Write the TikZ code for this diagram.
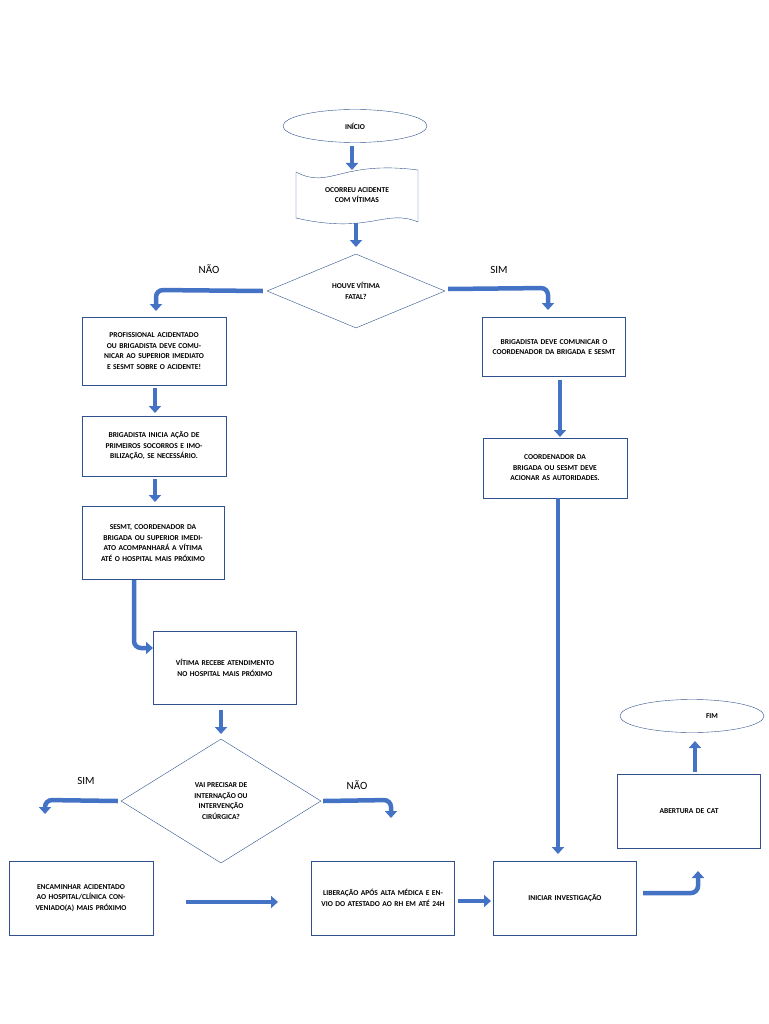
\documentclass[tikz,border=0pt]{standalone}
\usepackage{fontspec}
\setmainfont{Carlito}
\usetikzlibrary{shapes.geometric,arrows.meta}
\definecolor{wblue}{RGB}{68,114,196}
\definecolor{wedge}{RGB}{47,82,143}
\begin{document}
\begin{tikzpicture}[x=1pt,y=-1pt,
    txt/.style={font={\fontsize{7.5}{10.5}\selectfont\bfseries},align=center},
    box/.style={txt,draw=wedge,thin,minimum width=#1,text width=#1-16pt},
    decision/.style={txt,draw=wedge,thin,diamond,aspect=2.4,inner sep=1pt},
    term/.style={txt,draw=wedge,thin,ellipse,minimum width=144pt,minimum height=33pt},
    blk/.style={line width=4.5pt,draw=wblue,rounded corners=7pt,
        -{Triangle[width=12pt,length=7pt]}},
    lbl/.style={font={\fontsize{11}{13}\selectfont}}]
\useasboundingbox (0,0) rectangle (768,1024);

\node[term] (inicio) at (355,126) {INÍCIO};
% fita
\draw[wedge,thin] (296,172) .. controls (330,190) and (340,160) .. (418,170)
    -- (418,222) .. controls (385,208) and (370,235) .. (296,218) -- cycle;
\node[txt] (ocorreu) at (357,195) {OCORREU ACIDENTE\\COM VÍTIMAS};
\node[decision,minimum width=178pt,minimum height=74pt] (fatal) at (356,291) {HOUVE VÍTIMA\\FATAL?};

\node[box=144pt,minimum height=68pt] (comunicar) at (154,351) {PROFISSIONAL ACIDENTADO OU BRIGADISTA DEVE COMUNICAR AO SUPERIOR IMEDIATO E SESMT SOBRE O ACIDENTE!};
\node[box=144pt,minimum height=60pt] (socorro) at (154,446) {BRIGADISTA INICIA AÇÃO DE PRIMEIROS SOCORROS E IMOBILIZAÇÃO, SE NECESSÁRIO.};
\node[box=142pt,minimum height=73pt] (acompanha) at (153,543) {SESMT, COORDENADOR DA BRIGADA OU SUPERIOR IMEDIATO ACOMPANHARÁ A VÍTIMA ATÉ O HOSPITAL MAIS PRÓXIMO};
\node[box=143pt,minimum height=73pt] (atende) at (225,668) {VÍTIMA RECEBE ATENDIMENTO NO HOSPITAL MAIS PRÓXIMO};
\node[decision,minimum width=200pt,minimum height=124pt,aspect=1.6] (intern) at (221,801) {VAI PRECISAR DE\\INTERNAÇÃO OU\\INTERVENÇÃO\\CIRÚRGICA?};

\node[box=144pt,minimum height=74pt] (encaminhar) at (81,898) {ENCAMINHAR ACIDENTADO AO HOSPITAL/CLÍNICA CONVENIADO(A) MAIS PRÓXIMO};
\node[box=143pt,minimum height=74pt] (liberacao) at (383,898) {LIBERAÇÃO APÓS ALTA MÉDICA E ENVIO DO ATESTADO AO RH EM ATÉ 24H};
\node[box=143pt,minimum height=74pt] (investigar) at (565,898) {INICIAR INVESTIGAÇÃO};

\node[box=143pt,minimum height=59pt] (brigadista) at (554,347) {BRIGADISTA DEVE COMUNICAR O COORDENADOR DA BRIGADA E SESMT};
\node[box=144pt,minimum height=60pt] (autoridades) at (555,468) {COORDENADOR DA BRIGADA OU SESMT DEVE ACIONAR AS AUTORIDADES.};
\node[box=143pt,minimum height=74pt] (cat) at (689,811) {ABERTURA DE CAT};
\node[term] (fim) at (692,716) {\hspace*{40pt}FIM};

% setas
\draw[blk] (352,146) -- (352,170);
\draw[blk] (356,223) -- (356,247);
\draw[blk] (fatal.west) ++(-4,0) -- (156,290) -- (156,311);
\draw[blk] (fatal.east) ++(3,-2) -- (548,288) -- (548,310);
\draw[blk] (comunicar.south) ++(1,3) -- (155,413);
\draw[blk] (socorro.south) ++(1,3) -- (155,502);
\draw[blk] (134,580) -- (134,648) -- (153,648);
\draw[blk] (atende.south) ++(-4,5) -- (221,734);
\draw[blk] (intern.west) ++(-3,0) -- (45,800) -- (45,814);
\draw[blk] (intern.east) ++(2,0) -- (391,800) -- (391,818);
\draw[blk] (186,902) -- (278,902);
\draw[blk] (liberacao.east) ++(3,3) -- (491,901);
\draw[blk] (brigadista.south) ++(6,3) -- (560,437);
\draw[blk] (autoridades.south) ++(3,0) -- (558,854);
\draw[blk] (643,893) -- (698,893) -- (698,871);
\draw[blk] (cat.north) ++(6,-2) -- (695,741);

\node[lbl] (nao1) at (209,269) {NÃO};
\node[lbl] (sim1) at (499,270) {SIM};
\node[lbl] (sim2) at (86,781) {SIM};
\node[lbl] (nao2) at (357,785) {NÃO};
\end{tikzpicture}
\end{document}
